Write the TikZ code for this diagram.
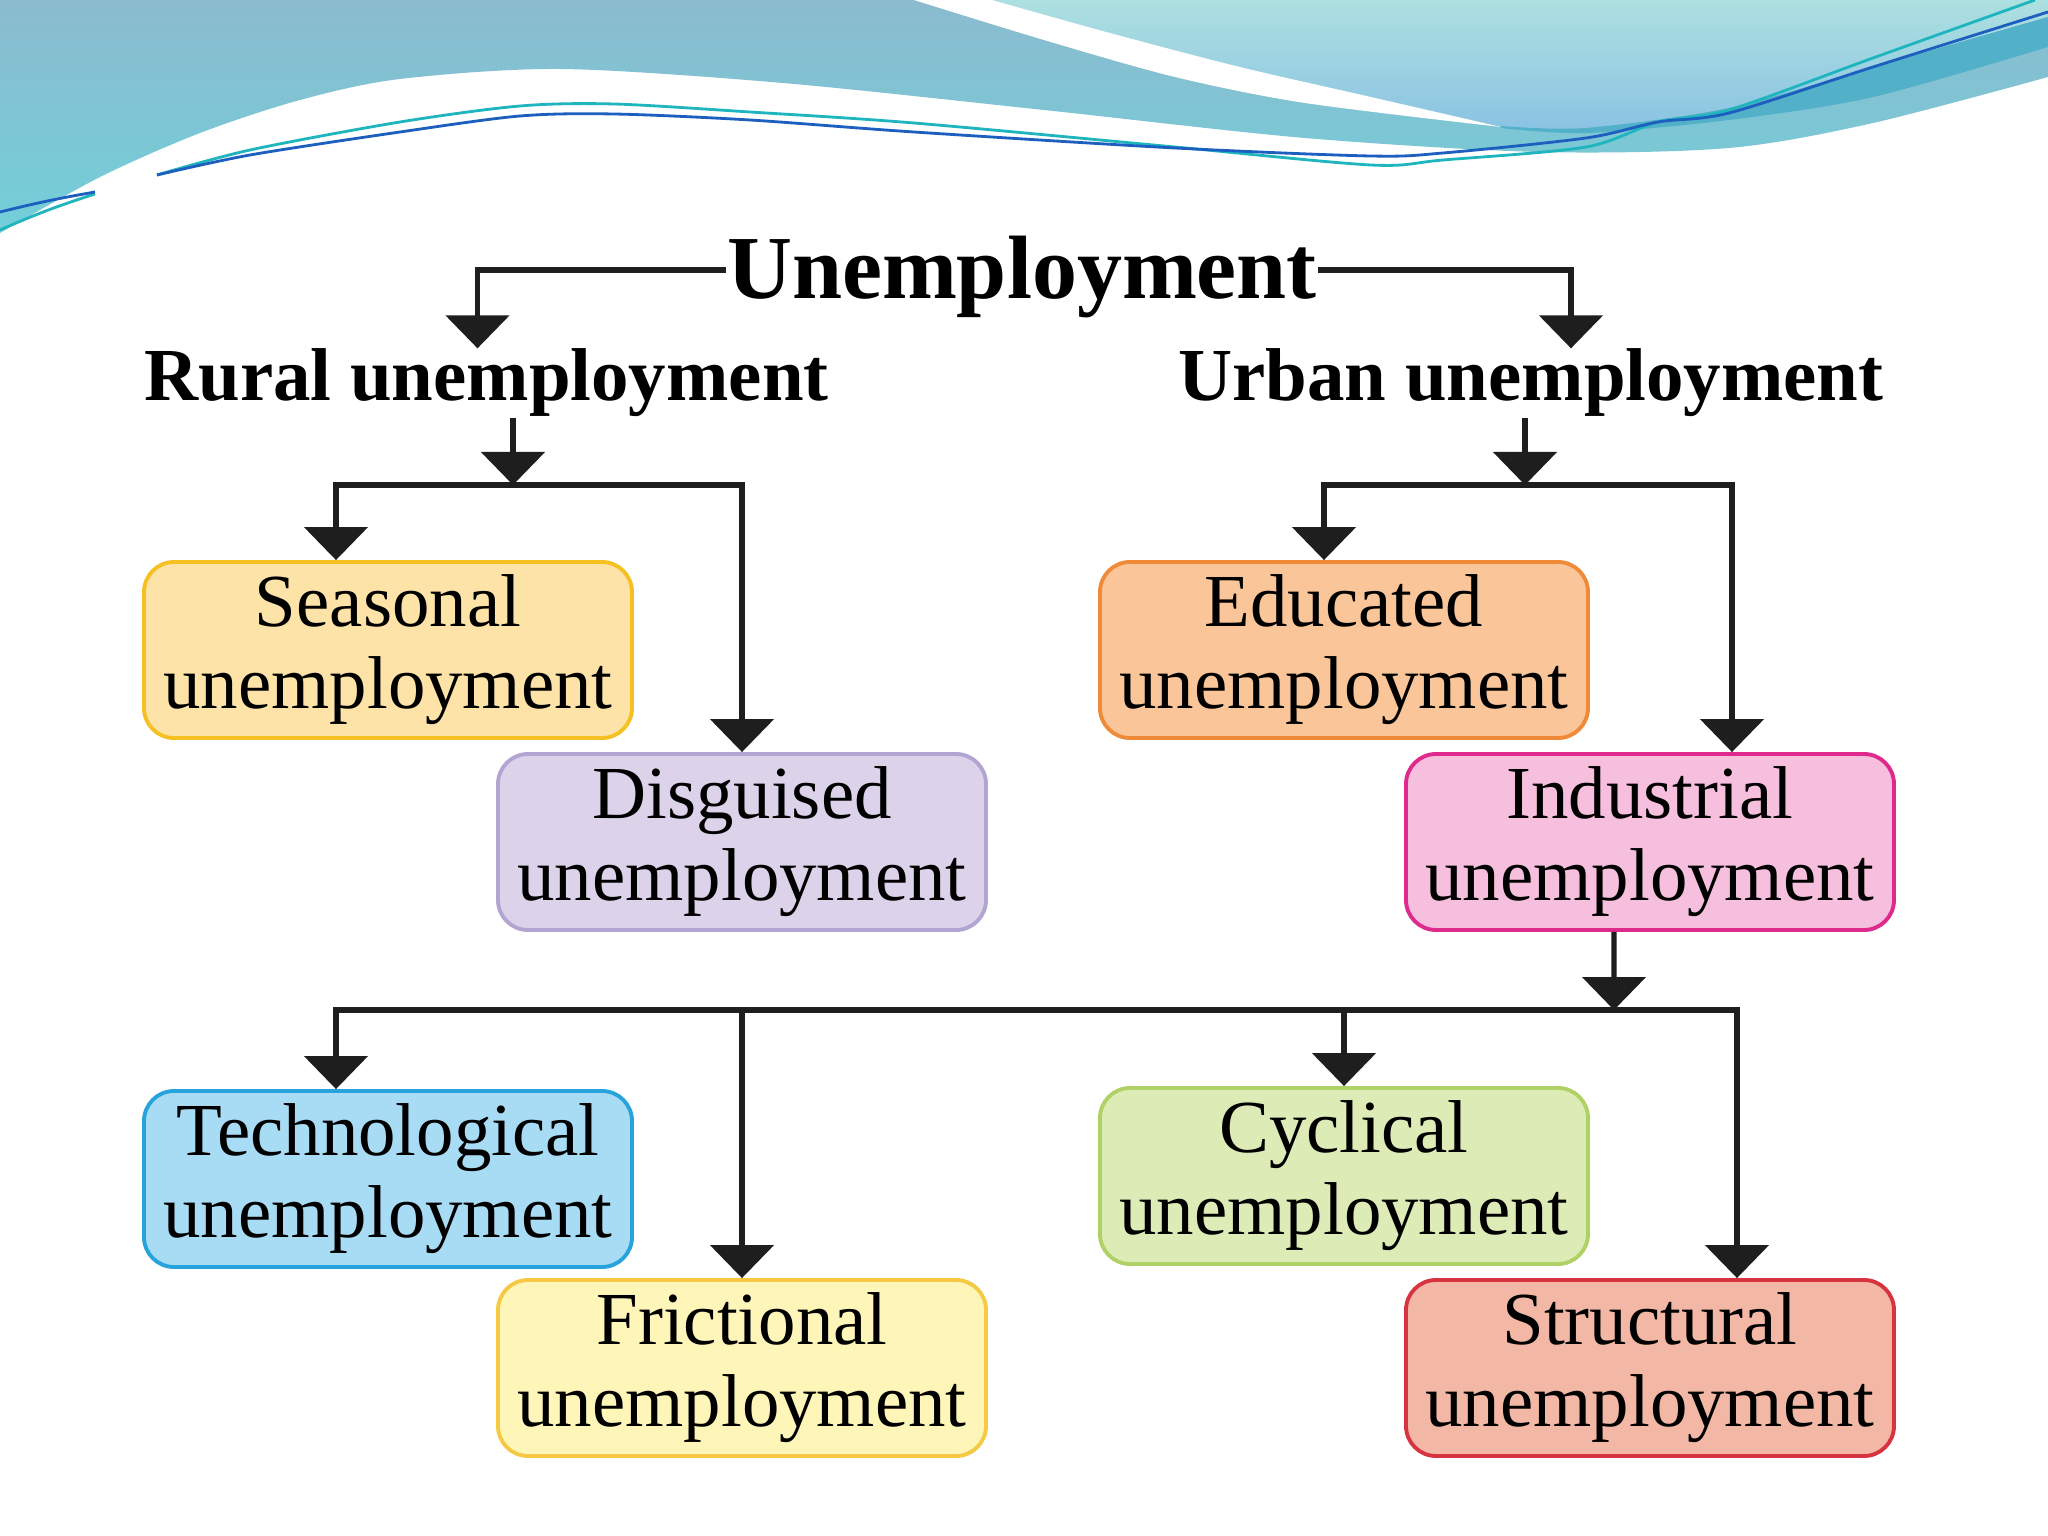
\documentclass[tikz,border=0pt]{standalone}
\usepackage{fontspec}
\setmainfont{Liberation Serif}
\usetikzlibrary{arrows.meta}
\definecolor{seasFill}{HTML}{FDE3A8}\definecolor{seasLine}{HTML}{F4C022}
\definecolor{disgFill}{HTML}{DCD3EA}\definecolor{disgLine}{HTML}{B3A5D2}
\definecolor{educFill}{HTML}{FAC699}\definecolor{educLine}{HTML}{EE8A38}
\definecolor{indFill}{HTML}{F6BFDD}\definecolor{indLine}{HTML}{DE2A8C}
\definecolor{techFill}{HTML}{A8DBF4}\definecolor{techLine}{HTML}{27A3DB}
\definecolor{fricFill}{HTML}{FEF5B8}\definecolor{fricLine}{HTML}{F6C944}
\definecolor{cyclFill}{HTML}{DDEBB7}\definecolor{cyclLine}{HTML}{B0D165}
\definecolor{strFill}{HTML}{F2B8A5}\definecolor{strLine}{HTML}{D7343F}
\definecolor{waveTop}{HTML}{8BBBCF}\definecolor{waveBot}{HTML}{72CFD9}
\definecolor{lightTop}{HTML}{ADE0E0}\definecolor{lightBot}{HTML}{8AC3E3}
\definecolor{waveBand}{HTML}{52B0C9}
\definecolor{cyanLine}{HTML}{1FB5BE}\definecolor{blueLine}{HTML}{1C5FBF}
\definecolor{arrowInk}{HTML}{1E1E1E}
\tikzset{>={Triangle[width=6.3mm,length=3.3mm]}}
\tikzset{
  box/.style={rounded corners=3mm, line width=1.1pt, minimum width=4.88cm,
    minimum height=1.76cm, align=center, inner sep=0pt,
    font=\fontsize{21.3}{23.3}\selectfont},
  head/.style={font=\bfseries\fontsize{21.3}{24}\selectfont, inner sep=0pt, anchor=base},
  arr/.style={->, line width=1.5pt, draw=arrowInk}
}

\begin{document}
\begin{tikzpicture}
\useasboundingbox (0,0) rectangle (20.48,-15.36);
\fill[white] (0,0) rectangle (20.48,-15.36);

% waves on top
\begin{scope}
\clip (0,0) rectangle (20.48,-15.36);
\shade[top color=waveTop, bottom color=waveBot] (0,0) -- (20.48,0) -- plot[smooth] coordinates
  {(20.48,-0.77) (18.73,-1.23) (17.29,-1.48) (15.39,-1.52) (13.05,-1.38) (10.44,-1.10)
   (7.83,-0.83) (5.61,-0.69) (4.00,-0.79) (3.00,-1.00) (2.00,-1.33) (1.00,-1.77) (0,-2.33)} -- cycle;
\shade[top color=lightTop, bottom color=lightBot] (9.92,0) -- plot[smooth] coordinates
  {(9.92,0) (11.10,-0.33) (12.40,-0.67) (13.71,-0.97) (15.01,-1.26) (15.86,-1.28)
   (17.29,-1.08) (18.73,-0.67) (20.48,-0.17)} -- (20.48,0) -- cycle;
\fill[white] plot[smooth] coordinates {(9.14,0) (10.44,-0.40) (11.75,-0.77) (13.05,-1.03) (15.01,-1.27)}
  -- plot[smooth] coordinates {(15.01,-1.27) (13.71,-0.97) (12.40,-0.67) (11.10,-0.33) (9.92,0)} -- cycle;
\fill[waveBand] plot[smooth] coordinates {(15.01,-1.26) (15.86,-1.28) (17.29,-1.08) (18.73,-0.67) (20.48,-0.17)}
  -- (20.48,-0.47) -- plot[smooth] coordinates {(20.48,-0.47) (18.73,-0.97) (17.29,-1.20) (15.86,-1.33) (15.01,-1.28)} -- cycle;
\draw[cyanLine, line width=0.8pt] (0,-2.30) to[bend left=3] (0.95,-1.94);
\draw[blueLine, line width=0.8pt] (0,-2.12) to[bend left=2] (0.95,-1.92);
\draw[cyanLine, line width=0.8pt] plot[smooth] coordinates
  {(1.57,-1.75) (2.5,-1.50) (4.0,-1.22) (5.2,-1.06) (6.14,-1.04) (7.5,-1.12) (9.14,-1.23)
   (11.75,-1.47) (13.71,-1.65) (14.43,-1.60) (15.86,-1.47) (16.58,-1.22) (17.29,-1.10) (18.73,-0.58) (20.35,0)};
\draw[blueLine, line width=0.8pt] plot[smooth] coordinates
  {(1.57,-1.75) (2.5,-1.55) (4.0,-1.32) (5.2,-1.16) (6.14,-1.14) (7.5,-1.20) (9.14,-1.32)
   (11.75,-1.48) (13.71,-1.56) (14.43,-1.53) (15.86,-1.38) (16.58,-1.22) (17.29,-1.13) (18.73,-0.67) (20.48,-0.12)};
\end{scope}

% headings
\node[head, font=\bfseries\fontsize{25.6}{28}\selectfont] (unemp) at (10.22,-2.99) {Unemployment};
\node[head] (rural) at (4.865,-4.01) {Rural unemployment};
\node[head] (urban) at (15.31,-4.01) {Urban unemployment};

% boxes
\node[box, fill=seasFill, draw=seasLine] (seasonal) at (3.88,-6.50) {Seasonal\\unemployment};
\node[box, fill=disgFill, draw=disgLine] (disguised) at (7.42,-8.42) {Disguised\\unemployment};
\node[box, fill=educFill, draw=educLine] (educated) at (13.44,-6.50) {Educated\\unemployment};
\node[box, fill=indFill, draw=indLine] (industrial) at (16.50,-8.42) {Industrial\\unemployment};
\node[box, fill=techFill, draw=techLine] (techno) at (3.88,-11.79) {Technological\\unemployment};
\node[box, fill=fricFill, draw=fricLine] (frictional) at (7.42,-13.68) {Frictional\\unemployment};
\node[box, fill=cyclFill, draw=cyclLine] (cyclical) at (13.44,-11.76) {Cyclical\\unemployment};
\node[box, fill=strFill, draw=strLine] (structural) at (16.50,-13.68) {Structural\\unemployment};

\coordinate (rj) at (5.13,-4.85);
\coordinate (uj) at (15.25,-4.85);
\coordinate (ij) at (16.14,-10.10);

% connectors
\draw[arr] ([yshift=2.9mm]unemp.base west) -| ([xshift=-0.9mm]rural.north);
\draw[arr] ([yshift=2.9mm]unemp.base east) -| ([xshift=4mm]urban.north);
\draw[arr] (rural.south -| rj) -- (rj);
\draw[arr] (urban.south -| uj) -- (uj);
\draw[arr] (rj) -| ([xshift=-5.2mm]seasonal.north);
\draw[arr] (rj) -| (disguised.north);
\draw[arr] (uj) -| ([xshift=-2mm]educated.north);
\draw[arr] (uj) -| ([xshift=8.2mm]industrial.north);
\draw[arr] ([xshift=-3.6mm]industrial.south) -- (ij);
\draw[arr] (ij) -| ([xshift=-5.2mm]techno.north);
\draw[arr] (ij) -| (frictional.north);
\draw[arr] (ij) -| (cyclical.north);
\draw[arr] (ij) -| ([xshift=8.7mm]structural.north);
\end{tikzpicture}
\end{document}
